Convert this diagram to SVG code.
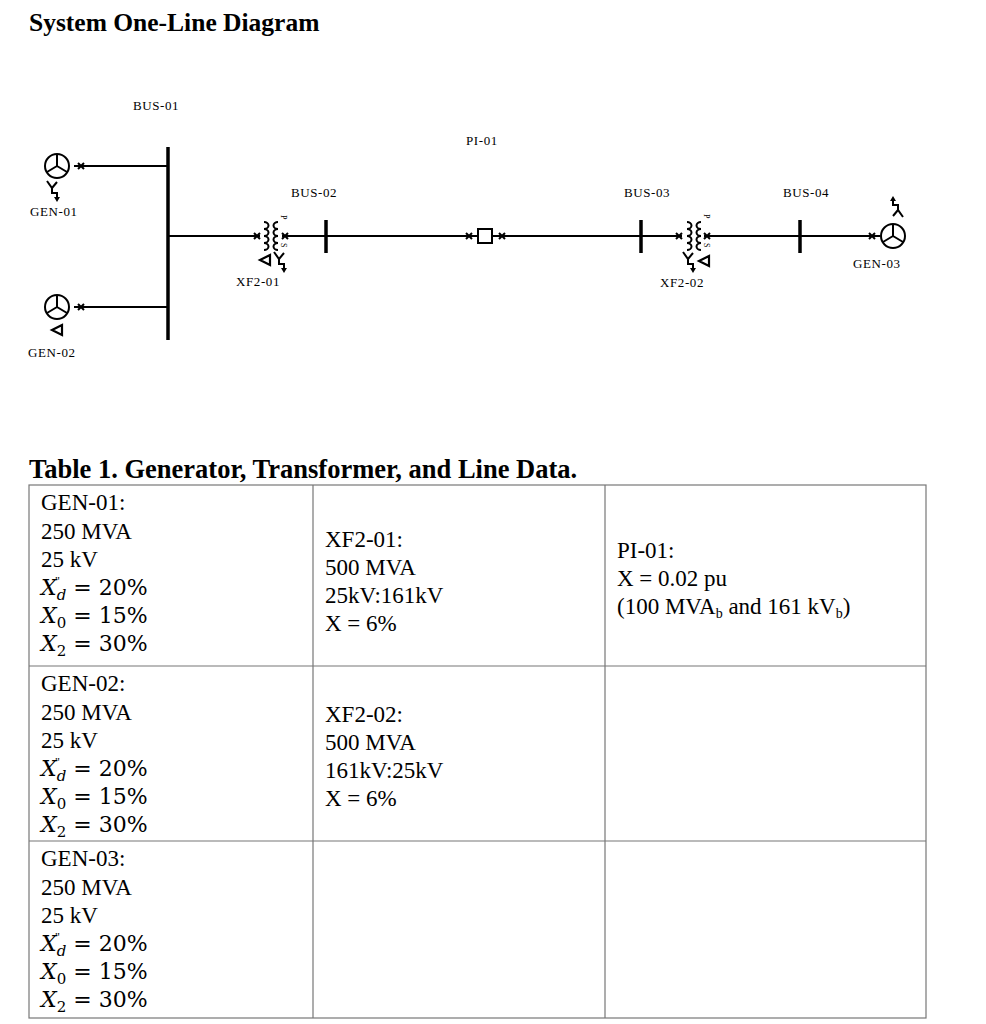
<svg xmlns="http://www.w3.org/2000/svg" width="986" height="1024" viewBox="0 0 986 1024">
<style>
text{font-family:"Liberation Serif",serif;fill:#000}
.lbl{font-size:13px;letter-spacing:0.6px}
.t{font-size:23px}
.m{font-size:22px;font-family:"DejaVu Serif","Liberation Serif",serif}
.i{font-style:italic}
.q{font-size:12px}
.w{stroke:#000;stroke-width:2;fill:none}
.bus{stroke:#000;stroke-width:3.5}
.bk{stroke:#000;stroke-width:2}
.cell{stroke:#777;stroke-width:1.2;fill:none}
</style>
<defs>
<g id="brk"><path d="M-3,-3 L3,3 M-3,3 L3,-3" class="bk"/></g>
<g id="gen"><circle r="12" class="w"/><path d="M0,0 L0,-12 M0,0 L10,6 M0,0 L-10,6" class="w" stroke-width="1.8"/></g>
<g id="wyeg"><path d="M-5,-7 L0,0 L5,-6 M0,0 L0,5 L5,5 L5,10" class="w" stroke-width="2.2"/><path d="M2,9 L8,9 L5,14Z" fill="#000"/></g>
<g id="delta"><path d="M5,-5 L-5,0 L5,5Z" fill="none" stroke="#000" stroke-width="2.2"/></g>
<path id="coil" d="M0,-14 a4.5,3.5 0 0 1 0,7 a4.5,3.5 0 0 1 0,7 a4.5,3.5 0 0 1 0,7 a4.5,3.5 0 0 1 0,7" class="w" stroke-width="1.8"/>
</defs>
<text x="29" y="31" font-size="25.5" font-weight="bold">System One-Line Diagram</text>

<g id="connectors">
<path d="M74,166 H168 M74,307 H168 M168,236 H478 M492,236 H880" class="w"/>
</g>
<g id="BUS-01"><line x1="168" y1="147" x2="168" y2="340" class="bus"/><text x="133" y="110" class="lbl">BUS-01</text></g>
<g id="BUS-02"><line x1="326" y1="220" x2="326" y2="253" class="bus"/><text x="291" y="197" class="lbl">BUS-02</text></g>
<g id="BUS-03"><line x1="641" y1="220" x2="641" y2="253" class="bus"/><text x="624" y="197" class="lbl">BUS-03</text></g>
<g id="BUS-04"><line x1="800" y1="220" x2="800" y2="253" class="bus"/><text x="783" y="197" class="lbl">BUS-04</text></g>
<g id="GEN-01"><use href="#gen" x="57" y="166"/><use href="#brk" x="81" y="166"/><use href="#wyeg" x="52" y="188"/><text x="30" y="216" class="lbl">GEN-01</text></g>
<g id="GEN-02"><use href="#gen" x="57" y="307"/><use href="#brk" x="81" y="307"/><use href="#delta" x="57" y="330"/><text x="28" y="357" class="lbl">GEN-02</text></g>
<g id="GEN-03"><use href="#gen" x="893" y="236"/><use href="#brk" x="872" y="236"/><g transform="translate(898,210) scale(-1,-1)"><use href="#wyeg"/></g><text x="853" y="268" class="lbl">GEN-03</text></g>
<g id="XF2-01">
<rect x="260" y="222" width="22" height="28" fill="#fff"/>
<use href="#brk" x="257" y="236"/><use href="#brk" x="285" y="236"/>
<use href="#coil" x="264" y="236"/><g transform="translate(278,236) scale(-1,1)"><use href="#coil"/></g>
<text x="281" y="215" font-size="8" font-family="Liberation Sans,sans-serif" transform="rotate(90 281 215)">P</text>
<text x="281" y="243" font-size="8" font-family="Liberation Sans,sans-serif" transform="rotate(90 281 243)">S</text>
<use href="#delta" x="265" y="260"/><use href="#wyeg" x="279" y="259"/>
<text x="236" y="286" class="lbl">XF2-01</text></g>
<g id="PI-01"><rect x="478" y="229" width="14" height="14" class="w" stroke-width="1.8"/><use href="#brk" x="469" y="236"/><use href="#brk" x="502" y="236"/><text x="466" y="145" class="lbl">PI-01</text></g>
<g id="XF2-02">
<rect x="682" y="222" width="22" height="28" fill="#fff"/>
<use href="#brk" x="679" y="236"/><use href="#brk" x="707" y="236"/>
<use href="#coil" x="687" y="236"/><g transform="translate(701,236) scale(-1,1)"><use href="#coil"/></g>
<text x="704" y="214" font-size="8" font-family="Liberation Sans,sans-serif" transform="rotate(90 704 214)">P</text>
<text x="704" y="243" font-size="8" font-family="Liberation Sans,sans-serif" transform="rotate(90 704 243)">S</text>
<use href="#wyeg" x="688" y="259"/><use href="#delta" x="704" y="261"/>
<text x="660" y="287" class="lbl">XF2-02</text></g>

<text x="29" y="478" font-size="26.5" font-weight="bold">Table 1. Generator, Transformer, and Line Data.</text>
<g id="table">
<rect x="29" y="485" width="897" height="533" class="cell"/>
<path d="M313,485 V1018 M605,485 V1018 M29,666 H926 M29,841 H926" class="cell"/>
</g>
<g id="cells">
<text class="t" x="41" y="510">GEN-01:</text><text class="t" x="41" y="539">250 MVA</text><text class="t" x="41" y="567">25 kV</text>
<text class="m" x="41" y="595"><tspan class="i">X</tspan><tspan font-size="15" class="i" dy="5">d</tspan><tspan dy="-5"> = 20%</tspan></text>
<text class="q" x="55" y="585">"</text>
<text class="m" x="41" y="623"><tspan class="i">X</tspan><tspan font-size="15" dy="5">0</tspan><tspan dy="-5"> = 15%</tspan></text>
<text class="m" x="41" y="651"><tspan class="i">X</tspan><tspan font-size="15" dy="5">2</tspan><tspan dy="-5"> = 30%</tspan></text>

<text class="t" x="41" y="691">GEN-02:</text><text class="t" x="41" y="720">250 MVA</text><text class="t" x="41" y="748">25 kV</text>
<text class="m" x="41" y="776"><tspan class="i">X</tspan><tspan font-size="15" class="i" dy="5">d</tspan><tspan dy="-5"> = 20%</tspan></text>
<text class="q" x="55" y="766">"</text>
<text class="m" x="41" y="804"><tspan class="i">X</tspan><tspan font-size="15" dy="5">0</tspan><tspan dy="-5"> = 15%</tspan></text>
<text class="m" x="41" y="832"><tspan class="i">X</tspan><tspan font-size="15" dy="5">2</tspan><tspan dy="-5"> = 30%</tspan></text>

<text class="t" x="41" y="866">GEN-03:</text><text class="t" x="41" y="895">250 MVA</text><text class="t" x="41" y="923">25 kV</text>
<text class="m" x="41" y="951"><tspan class="i">X</tspan><tspan font-size="15" class="i" dy="5">d</tspan><tspan dy="-5"> = 20%</tspan></text>
<text class="q" x="55" y="941">"</text>
<text class="m" x="41" y="979"><tspan class="i">X</tspan><tspan font-size="15" dy="5">0</tspan><tspan dy="-5"> = 15%</tspan></text>
<text class="m" x="41" y="1007"><tspan class="i">X</tspan><tspan font-size="15" dy="5">2</tspan><tspan dy="-5"> = 30%</tspan></text>

<text class="t" x="325" y="547">XF2-01:</text><text class="t" x="325" y="575">500 MVA</text><text class="t" x="325" y="603">25kV:161kV</text><text class="t" x="325" y="631">X = 6%</text>
<text class="t" x="325" y="722">XF2-02:</text><text class="t" x="325" y="750">500 MVA</text><text class="t" x="325" y="778">161kV:25kV</text><text class="t" x="325" y="806">X = 6%</text>

<text class="t" x="617" y="558">PI-01:</text><text class="t" x="617" y="586">X = 0.02 pu</text>
<text class="t" x="617" y="614">(100 MVA<tspan font-size="14" dy="4">b</tspan><tspan dy="-4"> and 161 kV</tspan><tspan font-size="14" dy="4">b</tspan><tspan dy="-4">)</tspan></text>
</g>
</svg>
